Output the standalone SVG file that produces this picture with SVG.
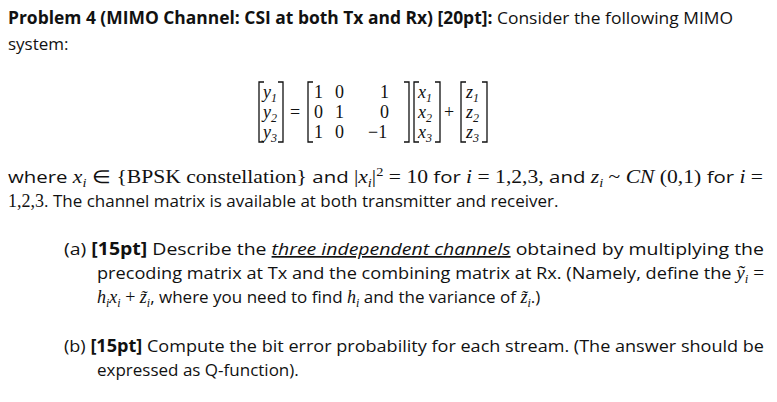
<svg xmlns="http://www.w3.org/2000/svg" width="777" height="402" viewBox="0 0 777 402">
<style>
.t{font-family:"Open Sans","Liberation Sans",sans-serif;font-size:17px;fill:#111}
.b{font-weight:bold}
.m{font-family:"Liberation Serif",serif;font-size:18px;fill:#111}
.i{font-style:italic}
.br{fill:none;stroke:#111;stroke-width:1.3}
</style>
<rect width="777" height="402" fill="#fff"/>
<text class="t" x="8" y="24" textLength="725" lengthAdjust="spacingAndGlyphs"><tspan class="b">Problem 4 (MIMO Channel: CSI at both Tx and Rx) [20pt]:</tspan> Consider the following MIMO</text>
<text class="t" x="8" y="50">system:</text>
<g id="matrix">
<path class="br" d="M264,82 h-5 v60 h5 M278,82 h5 v60 h-5"/>
<text class="m i" x="263" y="98">y<tspan font-size="12" dy="4">1</tspan></text>
<text class="m i" x="263" y="118">y<tspan font-size="12" dy="4">2</tspan></text>
<text class="m i" x="263" y="138">y<tspan font-size="12" dy="4">3</tspan></text>
<text class="m" x="290" y="118">=</text>
<path class="br" d="M313,82 h-5 v60 h5 M404,82 h5 v60 h-5"/>
<text class="m" x="314" y="98">1</text><text class="m" x="335" y="98">0</text><text class="m" x="380" y="98">1</text>
<text class="m" x="314" y="118">0</text><text class="m" x="335" y="118">1</text><text class="m" x="380" y="118">0</text>
<text class="m" x="314" y="138">1</text><text class="m" x="335" y="138">0</text><text class="m" x="368" y="138">−1</text>
<path class="br" d="M419,82 h-5 v60 h5 M435,82 h5 v60 h-5"/>
<text class="m i" x="418" y="98">x<tspan font-size="12" dy="4">1</tspan></text>
<text class="m i" x="418" y="118">x<tspan font-size="12" dy="4">2</tspan></text>
<text class="m i" x="418" y="138">x<tspan font-size="12" dy="4">3</tspan></text>
<text class="m" x="444" y="118">+</text>
<path class="br" d="M466,82 h-5 v60 h5 M482,82 h5 v60 h-5"/>
<text class="m i" x="466" y="98">z<tspan font-size="12" dy="4">1</tspan></text>
<text class="m i" x="466" y="118">z<tspan font-size="12" dy="4">2</tspan></text>
<text class="m i" x="466" y="138">z<tspan font-size="12" dy="4">3</tspan></text>
</g>
<text class="t" x="8" y="183" textLength="755" lengthAdjust="spacingAndGlyphs">where <tspan class="m i">x<tspan font-size="12" dy="4">i</tspan></tspan><tspan dy="-4" class="m"> ∈ {BPSK constellation} </tspan>and <tspan class="m">|<tspan class="i">x</tspan><tspan font-size="12" dy="4" class="i">i</tspan><tspan dy="-4">|</tspan><tspan font-size="12" dy="-7">2</tspan><tspan dy="7"> = 10 </tspan></tspan>for <tspan class="m"><tspan class="i">i</tspan> = 1,2,3, </tspan>and <tspan class="m i">z<tspan font-size="12" dy="4">i</tspan></tspan><tspan dy="-4" class="m"> ~ <tspan class="i">CN</tspan> (0,1) </tspan>for <tspan class="m"><tspan class="i">i</tspan> =</tspan></text>
<text class="t" x="8" y="207"><tspan class="m">1,2,3</tspan>. The channel matrix is available at both transmitter and receiver.</text>
<text class="t" x="64" y="255" textLength="700" lengthAdjust="spacingAndGlyphs">(a) <tspan class="b">[15pt]</tspan> Describe the <tspan font-style="italic" text-decoration="underline">three independent channels</tspan> obtained by multiplying the</text>
<text class="t" x="97" y="279" textLength="667" lengthAdjust="spacingAndGlyphs">precoding matrix at Tx and the combining matrix at Rx. (Namely, define the <tspan class="m"><tspan class="i">ỹ</tspan><tspan font-size="12" dy="4" class="i">i</tspan><tspan dy="-4"> =</tspan></tspan></text>
<text class="t" x="97" y="303"><tspan class="m i">h<tspan font-size="12" dy="4">i</tspan><tspan dy="-4">x</tspan><tspan font-size="12" dy="4">i</tspan><tspan dy="-4" font-style="normal"> + </tspan>z̃<tspan font-size="12" dy="4">i</tspan></tspan><tspan dy="-4">, where you need to find </tspan><tspan class="m i">h<tspan font-size="12" dy="4">i</tspan></tspan><tspan dy="-4"> and the variance of </tspan><tspan class="m i">z̃<tspan font-size="12" dy="4">i</tspan></tspan><tspan dy="-4">.)</tspan></text>
<text class="t" x="64" y="352" textLength="700" lengthAdjust="spacingAndGlyphs">(b) <tspan class="b">[15pt]</tspan> Compute the bit error probability for each stream. (The answer should be</text>
<text class="t" x="97" y="376">expressed as Q-function).</text>
</svg>
